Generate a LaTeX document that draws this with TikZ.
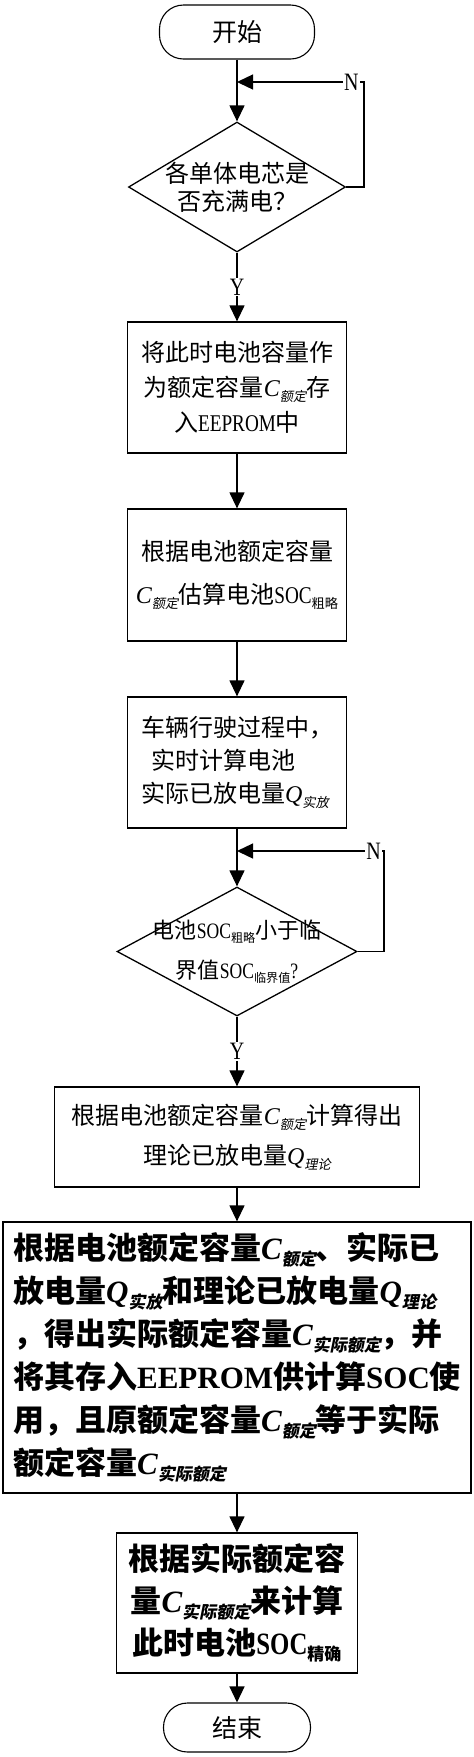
\documentclass[tikz,border=0pt]{standalone}
\usepackage{fontspec}
\usepackage{graphicx}
\usetikzlibrary{arrows.meta,shapes.geometric}
\setmainfont{Noto Sans CJK SC}
\newfontfamily\cjksl[FakeSlant=0.2]{Noto Sans CJK SC}
\newfontfamily\latn[FakeStretch=0.8]{Liberation Serif}
\newfontfamily\latw{Liberation Serif}
\newcommand{\en}[1]{{\latn #1}}
\newcommand{\enw}[1]{{\latw #1}}
\newcommand{\dn}[1]{\raisebox{-.2em}{\scalebox{.55}{#1}}}
\newcommand{\vsym}[2]{{\latw\itshape #1}\dn{\cjksl #2}}
\tikzset{proc/.style={draw=black,line width=1.3pt,align=center,font=\fontsize{24}{35}\selectfont},term/.style={draw=black,line width=1.1pt,rounded corners=24pt,font=\fontsize{25}{30}\selectfont},cond/.style={diamond,draw=black,line width=1.3pt,align=center,inner sep=-4pt},edge/.style={-{Triangle[length=16pt,width=15pt]},line width=1.3pt,draw=black},lbl/.style={fill=white,inner sep=1pt,font=\latn\fontsize{25}{25}\selectfont}}
\begin{document}
\begin{tikzpicture}[x=1pt,y=1pt]
\useasboundingbox (0,0) rectangle (474,-1757);
\node[term,minimum width=155pt,minimum height=54pt] (start) at (237,-32) {开始};
\node[cond,aspect=1.67,minimum width=217pt,minimum height=130pt,font=\fontsize{24}{28}\selectfont] (full) at (237,-187) {各单体电芯是\\否充满电？};
\node[proc,minimum width=219pt,minimum height=131pt] (store) at (237,-387.5) {将此时电池容量作\\为额定容量\vsym{C}{额定}存\\入\en{EEPROM}中};
\node[proc,minimum width=219pt,minimum height=132pt,font=\fontsize{24}{43}\selectfont] (rough) at (237,-575) {根据电池额定容量\\\vsym{C}{额定}估算电池\en{SOC}\dn{粗略}};
\node[proc,minimum width=219pt,minimum height=131pt,align=left,font=\fontsize{24}{33}\selectfont] (drive) at (237,-762.5) {车辆行驶过程中，\\\hspace*{10pt}实时计算电池\\实际已放电量\vsym{Q}{实放}};
\node[cond,aspect=1.86,minimum width=240pt,minimum height=129pt,inner sep=-12pt,font=\fontsize{22}{40}\selectfont] (low) at (237,-951.5) {电池\en{SOC}\dn{粗略}小于临\\界值\en{SOC}\dn{临界值}\en{?}};
\node[proc,minimum width=365pt,minimum height=100pt,font=\fontsize{24}{40}\selectfont] (theory) at (237,-1137) {根据电池额定容量\vsym{C}{额定}计算得出\\理论已放电量\vsym{Q}{理论}};
\node[proc,minimum width=468pt,minimum height=271pt,align=left,font=\bfseries\fontsize{31}{43}\selectfont] (real) at (237,-1357.5) {根据电池额定容量\vsym{C}{额定}、实际已\\放电量\vsym{Q}{实放}和理论已放电量\vsym{Q}{理论}\\，得出实际额定容量\vsym{C}{实际额定}，并\\将其存入\enw{EEPROM}供计算\enw{SOC}使\\用，且原额定容量\vsym{C}{额定}等于实际\\额定容量\vsym{C}{实际额定}};
\node[proc,minimum width=241pt,minimum height=140pt,font=\bfseries\fontsize{31}{42}\selectfont] (exact) at (237,-1603) {根据实际额定容\\量\vsym{C}{实际额定}来计算\\此时电池\en{SOC}\dn{精确}};
\node[term,minimum width=147pt,minimum height=49pt] (stop) at (237,-1727.5) {结束};
\coordinate (back1) at (364,-82);
\coordinate (back2) at (384,-851);
\draw[edge] (start) -- (full);
\draw[edge] (full.east) -| (back1) -- node[lbl,pos=.1]{N} (start.south |- back1);
\draw[edge] (full) -- node[lbl]{Y} (store);
\draw[edge] (store) -- (rough);
\draw[edge] (rough) -- (drive);
\draw[edge] (drive) -- (low);
\draw[edge] (low.east) -| (back2) -- node[lbl,pos=.07]{N} (drive.south |- back2);
\draw[edge] (low) -- node[lbl]{Y} (theory);
\draw[edge] (theory) -- (real);
\draw[edge] (real) -- (exact);
\draw[edge] (exact) -- (stop);
\end{tikzpicture}
\end{document}
